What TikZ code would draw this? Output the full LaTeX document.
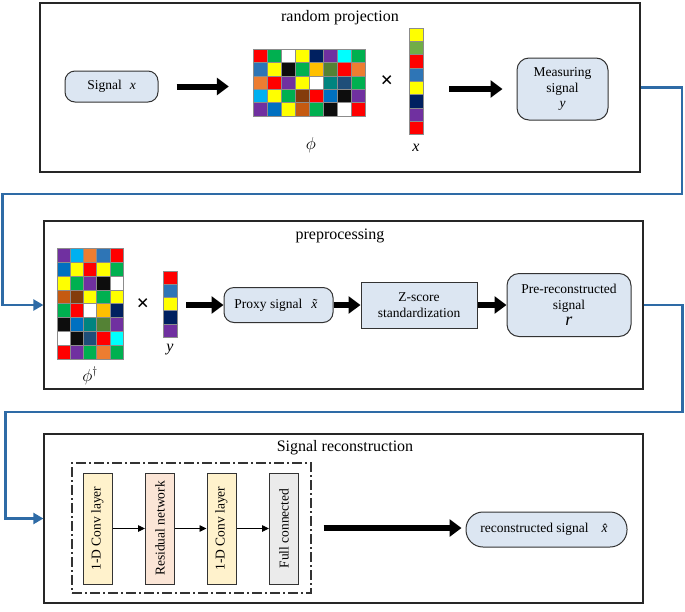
\documentclass[tikz,border=0pt]{standalone}
\usepackage{fontspec}
\setmainfont{Liberation Serif}
\usetikzlibrary{arrows.meta}

\definecolor{boxblue}{HTML}{DCE6F2}
\definecolor{linkblue}{HTML}{2E6BA6}
\definecolor{convyellow}{HTML}{FFF2CC}
\definecolor{respink}{HTML}{FBE5D6}
\definecolor{fcgray}{HTML}{EBEBEB}
% cell colours of the matrices
\definecolor{cr}{HTML}{FF0000}
\definecolor{cg}{HTML}{00B050}
\definecolor{cy}{HTML}{FFFF00}
\definecolor{cn}{HTML}{002060}
\definecolor{cp}{HTML}{7030A0}
\definecolor{cc}{HTML}{00FFFF}
\definecolor{cb}{HTML}{2E75B6}
\definecolor{ck}{HTML}{0D0D0D}
\definecolor{ca}{HTML}{FFC000}
\definecolor{co}{HTML}{548235}
\definecolor{cor}{HTML}{ED7D31}
\definecolor{ct}{HTML}{00847F}
\definecolor{cd}{HTML}{1F4E79}
\definecolor{cl}{HTML}{00B0F0}
\definecolor{cbr}{HTML}{843C0C}
\definecolor{cru}{HTML}{C55A11}
\definecolor{cbl}{HTML}{0070C0}
\definecolor{clg}{HTML}{70AD47}

\newcommand{\boxfont}{\fontsize{13.5}{15.8}\selectfont}
\newcommand{\titlefont}{\fontsize{16}{18}\selectfont}

\tikzset{
  panel/.style={draw=black!85, line width=1.2pt, inner sep=0pt},
  title/.style={font=\titlefont, inner sep=1pt},
  roundbox/.style={draw=black!80, fill=boxblue, line width=1pt, rounded corners=10pt,
    align=center, font=\boxfont, inner sep=2pt},
  sqbox/.style={draw=black!80, fill=boxblue, line width=1pt, align=center, font=\boxfont, inner sep=2pt},
  layer/.style={draw=black!80, line width=1pt, rotate=90, minimum width=111, minimum height=29,
    font=\boxfont, inner sep=1pt},
  dashbox/.style={draw=black!80, line width=1.2pt, dash pattern=on 10pt off 3pt on 2pt off 3pt, inner sep=0pt},
  matbox/.style={inner sep=0pt},
  cell/.style={draw=black!45, line width=0.4pt},
  times/.style={font=\fontsize{22}{22}\selectfont\bfseries, inner sep=0pt},
  bigarrow/.style={line width=6pt, -{Triangle[length=12pt,width=17pt]}},
  thinarrow/.style={line width=0.9pt, -{Triangle[length=7pt,width=6.5pt]}},
  link/.style={draw=linkblue, line width=2.2pt, -{Triangle[length=10pt,width=11pt]}}
}

\begin{document}
\begin{tikzpicture}[x=1pt,y=-1pt]
  \useasboundingbox (0,0) rectangle (685,611);

  % Panel: random projection
  \node[panel, minimum width=600, minimum height=169] (proj) at (340,87.5) {};
  \node[title] (projt) at (340,18) {random projection};

  \node[roundbox, minimum width=93, minimum height=31] (sigx) at (111.5,86.5) {Signal\hspace{8pt}\textit{x}};

  % phi matrix, 5 rows x 8 columns
  \node[matbox, minimum width=112, minimum height=67] (phi) at (309,82.5) {};
  \foreach \row [count=\i] in {{cr,cg,white,cy,cn,cp,cc,cg},{cb,cy,ck,cg,ca,co,cr,cor},
      {cor,cr,cp,cy,white,ct,cd,cg},{cl,cy,cg,cbr,cr,cbl,ck,cp},{cp,cbl,cy,cru,cg,ck,white,cr}}
    \foreach \c [count=\j] in \row
      \draw[cell, fill=\c] (239+14*\j,35.6+13.4*\i) rectangle ++(14,13.4);
  \node[title] (phil) at (311,145) {$\phi$};

  \node[times] (times1) at (387,82) {×};

  % x vector
  \node[matbox, minimum width=14, minimum height=106.4] (xvec) at (416,81.2) {};
  \foreach \c [count=\i] in {cy,clg,cr,cb,cy,cn,cp,cr}
    \draw[cell, fill=\c] (409,14.7+13.3*\i) rectangle ++(14,13.3);
  \node[title] (xl) at (416,148) {\textit{x}};

  \node[roundbox, minimum width=91, minimum height=62, rounded corners=12pt] (meas) at (562.5,89) {Measuring\\signal\\\textit{y}};

  \draw[bigarrow, shorten <=18pt, shorten >=24pt] (sigx.east) -- (sigx.east -| phi.west);
  \draw[bigarrow, shorten <=26pt, shorten >=14pt] (meas.west -| xvec.east) -- (meas.west);

  % Panel: preprocessing
  \node[panel, minimum width=599, minimum height=168] (prep) at (343.5,305) {};
  \node[title] (prept) at (340,236) {preprocessing};

  % phi dagger matrix, 8 rows x 5 columns
  \node[matbox, minimum width=66, minimum height=111.2] (phid) at (90,303.6) {};
  \foreach \row [count=\i] in {{cp,cl,cor,cb,cr},{cbl,cy,cr,cy,cg},{cy,cg,cp,ck,white},
      {cru,cbr,cy,cg,cy},{cg,cr,white,ca,cn},{ck,cbl,ct,co,cp},{white,ck,cd,cr,cc},{cr,cp,cg,cor,cg}}
    \foreach \c [count=\j] in \row
      \draw[cell, fill=\c] (43.8+13.2*\j,234.1+13.9*\i) rectangle ++(13.2,13.9);
  \node[title] (phidl) at (90,376) {$\phi^{\dagger}$};

  \node[times] (times2) at (143,305) {×};

  % y vector
  \node[matbox, minimum width=14, minimum height=66] (yvec) at (170,304) {};
  \foreach \c [count=\i] in {cr,cb,cy,cn,cp}
    \draw[cell, fill=\c] (163,257.8+13.2*\i) rectangle ++(14,13.2);
  \node[title] (yl) at (170,350) {\textit{y}};

  \node[roundbox, minimum width=109, minimum height=35] (proxy) at (278.5,305) {Proxy signal\hspace{9pt}\textit{\~x}};
  \node[sqbox, minimum width=116, minimum height=46] (zs) at (419,305) {Z-score\\standardization};
  \node[roundbox, minimum width=124, minimum height=63, rounded corners=12pt] (pre) at (569,305)
    {Pre-reconstructed\\signal\\{\fontsize{18}{17}\selectfont\textit{r}}};

  \draw[bigarrow, shorten <=9pt] (yvec.east |- proxy.west) -- (proxy.west);
  \draw[bigarrow] (proxy) -- (zs);
  \draw[bigarrow] (zs) -- (pre);

  % Panel: signal reconstruction
  \node[panel, minimum width=599, minimum height=169] (recon) at (343.5,518.5) {};
  \node[title] (recont) at (345,448) {Signal reconstruction};

  \node[dashbox, minimum width=239, minimum height=130] (net) at (191.5,528) {};
  \node[layer, fill=convyellow] (conv1) at (97.5,528.5) {1-D Conv layer};
  \node[layer, fill=respink] (res) at (160,528.5) {Residual network};
  \node[layer, fill=convyellow] (conv2) at (221.5,528.5) {1-D Conv layer};
  \node[layer, fill=fcgray] (fc) at (284,528.5) {Full connected};
  \draw[thinarrow] (conv1) -- (res);
  \draw[thinarrow] (res) -- (conv2);
  \draw[thinarrow] (conv2) -- (fc);

  \node[roundbox, minimum width=161, minimum height=35, rounded corners=17pt] (rec) at (546.5,529.5)
    {reconstructed signal\hspace{13pt}\textit{\^x}};
  \draw[bigarrow, shorten <=12pt, shorten >=4pt] (net.east) -- (net.east -| rec.west);

  % blue links between the panels
  \draw[link] (proj.east) -| (682,194) -| ([xshift=-41pt]prep.west) -- (prep.west);
  \draw[link] (prep.east) -| (682.5,412) -| ([xshift=-38pt]recon.west) -- (recon.west);
\end{tikzpicture}
\end{document}
